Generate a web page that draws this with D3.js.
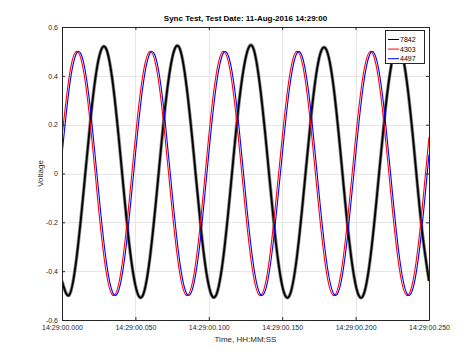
<!DOCTYPE html>
<html>
<head>
<meta charset="utf-8">
<script src="https://cdn.jsdelivr.net/npm/d3@7"></script>
<style>
  html, body { margin: 0; padding: 0; background: #fff; }
  svg { display: block; font-family: "Liberation Sans", Arial, sans-serif; }
</style>
</head>
<body>
<svg id="chart" width="474" height="360"></svg>
<script>
// ---- data (seconds after 14:29:00.000, volts) ----
const times = [
  0.000, 0.005, 0.010, 0.015, 0.020, 0.025, 0.030, 0.035, 0.040, 0.045,
  0.050, 0.055, 0.060, 0.065, 0.070, 0.075, 0.080, 0.085, 0.090, 0.095,
  0.100, 0.105, 0.110, 0.115, 0.120, 0.125, 0.130, 0.135, 0.140, 0.145,
  0.150, 0.155, 0.160, 0.165, 0.170, 0.175, 0.180, 0.185, 0.190, 0.195,
  0.200, 0.205, 0.210, 0.215, 0.220, 0.225, 0.230, 0.235, 0.240, 0.245,
  0.250
];
const s7842 = [
  -0.440, -0.497, -0.342, -0.055, 0.254, 0.470, 0.512, 0.352, 0.062, -0.246,
  -0.458, -0.500, -0.340, -0.052, 0.256, 0.471, 0.515, 0.350, 0.064, -0.245,
  -0.460, -0.498, -0.338, -0.050, 0.258, 0.470, 0.518, 0.352, 0.066, -0.244,
  -0.459, -0.500, -0.342, -0.056, 0.252, 0.468, 0.508, 0.355, 0.068, -0.240,
  -0.455, -0.502, -0.348, -0.062, 0.246, 0.465, 0.520, 0.372, 0.090, -0.220,
  -0.440
];
const s4303 = [
  0.149, 0.401, 0.500, 0.408, 0.160, -0.149, -0.401, -0.500, -0.408, -0.160,
  0.149, 0.401, 0.500, 0.408, 0.160, -0.149, -0.401, -0.500, -0.408, -0.160,
  0.155, 0.405, 0.500, 0.404, 0.154, -0.155, -0.405, -0.500, -0.404, -0.154,
  0.147, 0.400, 0.500, 0.409, 0.162, -0.147, -0.400, -0.500, -0.409, -0.162,
  0.145, 0.398, 0.500, 0.410, 0.165, -0.145, -0.398, -0.500, -0.410, -0.165,
  0.150
];
const s4497 = [
  0.076, 0.352, 0.493, 0.447, 0.229, -0.076, -0.352, -0.493, -0.447, -0.229,
  0.076, 0.352, 0.493, 0.447, 0.229, -0.076, -0.352, -0.493, -0.447, -0.229,
  0.082, 0.356, 0.494, 0.444, 0.224, -0.082, -0.356, -0.494, -0.444, -0.224,
  0.074, 0.350, 0.492, 0.448, 0.231, -0.074, -0.350, -0.492, -0.448, -0.231,
  0.072, 0.348, 0.492, 0.449, 0.233, -0.072, -0.348, -0.492, -0.449, -0.233,
  0.078
];
const seriesNames = ["7842", "4303", "4497"];
const seriesColors = ["#000000", "#ff0000", "#0000ff"];
const xTicks = [0, 0.05, 0.10, 0.15, 0.20, 0.25];
const xTickLabels = ["14:29:00.000", "14:29:00.050", "14:29:00.100", "14:29:00.150", "14:29:00.200", "14:29:00.250"];
const yTicks = [-0.6, -0.4, -0.2, 0, 0.2, 0.4, 0.6];
const yTickLabels = ["-0.6", "-0.4", "-0.2", "0", "0.2", "0.4", "0.6"];
const titleText = "Sync Test, Test Date: 11-Aug-2016 14:29:00";
const xLabel = "Time, HH:MM:SS";
const yLabel = "Voltage";

// ---- layout ----
const L = 62, R = 429, T = 27, B = 320;
const axisColor = "#262626";
const svg = d3.select("#chart");

const x = d3.scaleLinear().domain([0, 0.25]).range([L, R]);
const y = d3.scaleLinear().domain([-0.6, 0.6]).range([B, T]);

svg.append("rect").attr("x", L).attr("y", T).attr("width", R - L).attr("height", B - T).attr("fill", "#fff");

// grid
const grid = svg.append("g").attr("stroke", "#e6e6e6").attr("stroke-width", 1);
grid.selectAll(".gx").data(xTicks.slice(1, -1)).join("line")
  .attr("x1", d => Math.round(x(d)) + 0.5).attr("x2", d => Math.round(x(d)) + 0.5)
  .attr("y1", T).attr("y2", B);
grid.selectAll(".gy").data(yTicks.slice(1, -1)).join("line")
  .attr("y1", d => Math.round(y(d)) + 0.5).attr("y2", d => Math.round(y(d)) + 0.5)
  .attr("x1", L).attr("x2", R);

// lines
svg.append("defs").append("clipPath").attr("id", "clip")
  .append("rect").attr("x", L).attr("y", T).attr("width", R - L).attr("height", B - T);

const seriesData = [s7842, s4303, s4497];
const line = d3.line().x((d, i) => x(times[i])).y(d => y(d)).curve(d3.curveNatural);
const lineG = svg.append("g").attr("clip-path", "url(#clip)");
// noisy trace of 7842 rendered as a soft wide band plus a core line
lineG.append("path").datum(s7842)
  .attr("fill", "none").attr("stroke", "#000").attr("stroke-opacity", 0.45)
  .attr("stroke-width", 3.4).attr("stroke-linejoin", "round").attr("d", line);
seriesData.forEach((vals, si) => {
  lineG.append("path").datum(vals)
    .attr("fill", "none")
    .attr("stroke", seriesColors[si])
    .attr("stroke-width", si === 0 ? 1.8 : 1.1)
    .attr("stroke-linejoin", "round")
    .attr("d", line);
});

// axes (box style, ticks inward)
const xFmt = (d, i) => xTickLabels[i];
const yFmt = (d, i) => yTickLabels[i];

const xb = svg.append("g").attr("transform", `translate(0,${B})`)
  .call(d3.axisBottom(x).tickValues(xTicks).tickFormat(xFmt).tickSizeInner(-3).tickSizeOuter(0).tickPadding(5));
const xt = svg.append("g").attr("transform", `translate(0,${T})`)
  .call(d3.axisTop(x).tickValues(xTicks).tickFormat("").tickSizeInner(-3).tickSizeOuter(0));
const yl = svg.append("g").attr("transform", `translate(${L},0)`)
  .call(d3.axisLeft(y).tickValues(yTicks).tickFormat(yFmt).tickSizeInner(-3).tickSizeOuter(0).tickPadding(4));
const yr = svg.append("g").attr("transform", `translate(${R},0)`)
  .call(d3.axisRight(y).tickValues(yTicks).tickFormat("").tickSizeInner(-3).tickSizeOuter(0));
[xb, xt, yl, yr].forEach(g => {
  g.selectAll("path").attr("stroke", axisColor).attr("stroke-width", 1);
  g.selectAll("line").attr("stroke", axisColor);
  g.selectAll("text").attr("fill", axisColor).attr("font-size", 7)
    .attr("font-family", "'Liberation Sans', Arial, sans-serif");
});

// labels
svg.append("text").attr("x", (L + R) / 2).attr("y", 21)
  .attr("text-anchor", "middle").attr("font-size", 8).attr("font-weight", "bold").attr("fill", "#000")
  .text(titleText);
svg.append("text").attr("x", (L + R) / 2).attr("y", 342)
  .attr("text-anchor", "middle").attr("font-size", 8).attr("fill", axisColor)
  .text(xLabel);
svg.append("text").attr("transform", `translate(43,${(T + B) / 2}) rotate(-90)`)
  .attr("text-anchor", "middle").attr("font-size", 8).attr("fill", axisColor)
  .text(yLabel);

// legend
const lg = svg.append("g");
lg.append("rect").attr("x", 385.5).attr("y", 30.5).attr("width", 39).attr("height", 33)
  .attr("fill", "#fff").attr("stroke", axisColor).attr("stroke-width", 1);
seriesNames.forEach((name, i) => {
  const yy = 39.5 + i * 9.6;
  lg.append("line").attr("x1", 388).attr("x2", 399).attr("y1", yy).attr("y2", yy)
    .attr("stroke", seriesColors[i]).attr("stroke-width", 1);
  lg.append("text").attr("x", 400).attr("y", yy + 2.5)
    .attr("font-size", 7).attr("fill", "#000").text(name);
});
</script>
</body>
</html>
